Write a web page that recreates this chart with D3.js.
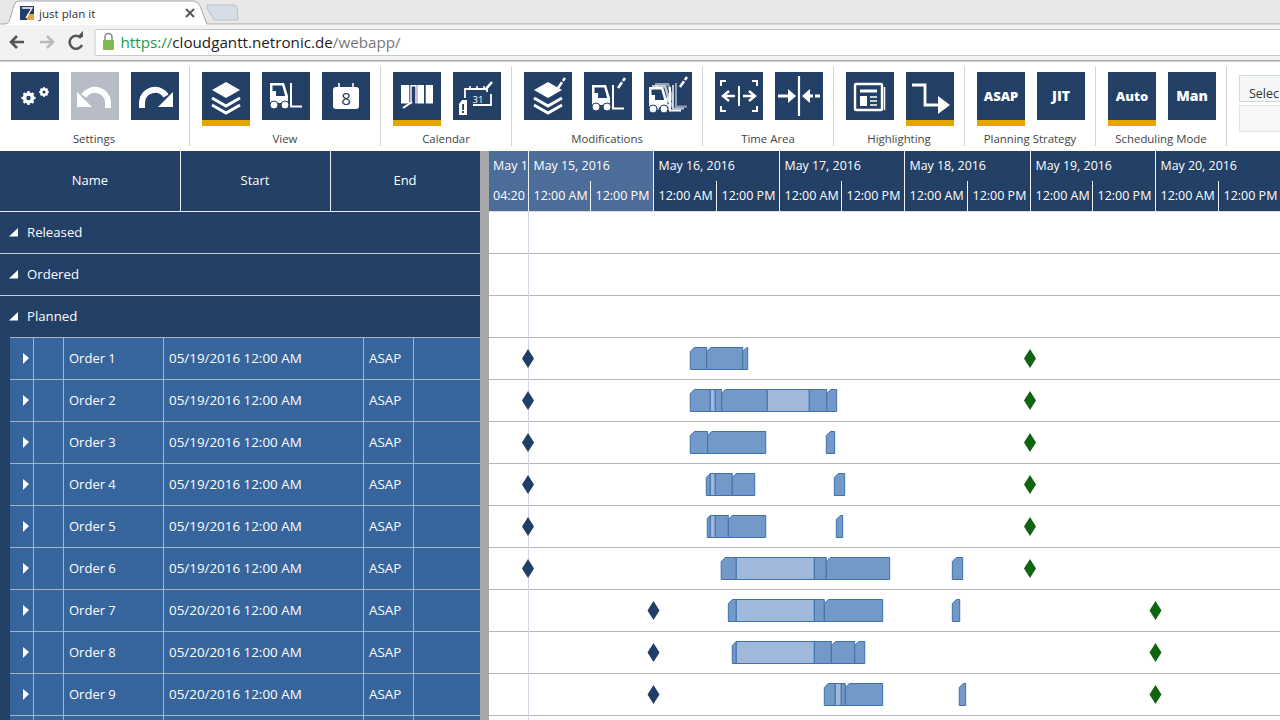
<!DOCTYPE html>
<html>
<head>
<meta charset="utf-8">
<title>just plan it</title>
<script src="https://cdn.jsdelivr.net/npm/d3@7"></script>
<style>
html, body { margin: 0; padding: 0; background: #fff; overflow: hidden; }
svg { display: block; }
text { font-family: "Open Sans", sans-serif; }
</style>
</head>
<body>
<script>
// chart values
const groupNames = ["Released", "Ordered", "Planned"];
const orderNames = ["Order 1", "Order 2", "Order 3", "Order 4", "Order 5", "Order 6", "Order 7", "Order 8", "Order 9"];
const orderStarts = ["05/19/2016 12:00 AM", "05/19/2016 12:00 AM", "05/19/2016 12:00 AM", "05/19/2016 12:00 AM", "05/19/2016 12:00 AM", "05/19/2016 12:00 AM", "05/20/2016 12:00 AM", "05/20/2016 12:00 AM", "05/20/2016 12:00 AM"];
const orderStrategy = ["ASAP", "ASAP", "ASAP", "ASAP", "ASAP", "ASAP", "ASAP", "ASAP", "ASAP"];
const earliestDates = ["2016-05-15", "2016-05-15", "2016-05-15", "2016-05-15", "2016-05-15", "2016-05-15", "2016-05-16", "2016-05-16", "2016-05-16"];
const dueDates = ["2016-05-19", "2016-05-19", "2016-05-19", "2016-05-19", "2016-05-19", "2016-05-19", "2016-05-20", "2016-05-20", "2016-05-20"];
const dayLabels = ["2016-05-15", "2016-05-16", "2016-05-17", "2016-05-18", "2016-05-19", "2016-05-20"];

// operation pieces per order: [start hour after May 15 00:00, end hour, kind]
// kind: "first" starts an operation, "cont" carries on, "wait" is the lighter part
const order1Ops = [[30.94, 34.08, "first"], [34.08, 40.96, "first"], [40.96, 41.92, "first"]];
const order2Ops = [[30.94, 34.77, "first"], [34.77, 35.72, "wait"], [35.72, 36.95, "cont"], [36.95, 45.67, "first"], [45.67, 53.70, "wait"], [53.70, 57.03, "cont"], [57.03, 58.94, "first"]];
const order3Ops = [[30.94, 34.27, "first"], [34.27, 45.36, "first"], [56.95, 58.55, "first"]];
const order4Ops = [[34.00, 34.77, "first"], [34.77, 35.72, "wait"], [35.72, 38.97, "cont"], [38.97, 43.26, "first"], [58.48, 60.47, "first"]];
const order5Ops = [[34.19, 34.77, "first"], [34.77, 35.72, "wait"], [35.72, 38.21, "cont"], [38.21, 45.36, "first"], [58.86, 60.09, "first"]];
const order6Ops = [[36.85, 39.74, "first"], [39.74, 54.66, "wait"], [54.66, 56.95, "cont"], [56.95, 69.07, "first"], [81.05, 83.04, "first"]];
const order7Ops = [[38.21, 39.74, "first"], [39.74, 54.66, "wait"], [54.66, 56.57, "cont"], [56.57, 67.74, "first"], [81.05, 82.46, "first"]];
const order8Ops = [[38.97, 39.74, "first"], [39.74, 54.66, "wait"], [54.66, 57.91, "cont"], [57.91, 62.38, "first"], [62.38, 64.30, "first"]];
const order9Ops = [[56.57, 58.67, "first"], [58.67, 59.82, "wait"], [59.82, 60.58, "cont"], [60.58, 67.74, "first"], [82.38, 83.60, "first"]];
const orderOps = [order1Ops, order2Ops, order3Ops, order4Ops, order5Ops, order6Ops, order7Ops, order8Ops, order9Ops];

// toolbar
const toolGroups = ["Settings", "View", "Calendar", "Modifications", "Time Area", "Highlighting", "Planning Strategy", "Scheduling Mode"];
const toolIcons = [["gears", "undo", "redo"], ["layers", "fork", "cal8"], ["columns", "cal31"], ["layersPen", "forkPen", "forksPen"], ["expand", "collapse"], ["doc", "route"], ["ASAP", "JIT"], ["Auto", "Man"]];
const activeIcons = ["layers", "columns", "route", "ASAP", "Auto"];

const width = 1280, height = 720;
const amber = "#e6a400";

const svg = d3.select("body").append("svg").attr("width", width).attr("height", height);

// the screenshot is dithered, so the dark fills are two-tone
const defs = svg.append("defs");
function dither(id, a, b) {
    const p = defs.append("pattern").attr("id", id).attr("width", 2).attr("height", 2).attr("patternUnits", "userSpaceOnUse");
    p.append("rect").attr("width", 2).attr("height", 2).attr("fill", a);
    p.append("rect").attr("width", 1).attr("height", 1).attr("fill", b);
    p.append("rect").attr("x", 1).attr("y", 1).attr("width", 1).attr("height", 1).attr("fill", b);
    return `url(#${id})`;
}
const navy = dither("navyFill", "#1b3a64", "#2a4568");
const rowBlue = dither("rowFill", "#2f5f9c", "#3f6a9c");
const headLight = dither("headFill", "#436a9e", "#566f94");
const navySolid = "#213f66";

const parseDay = d3.timeParse("%Y-%m-%d");
const fmtDay = d3.timeFormat("%b %-d, %Y");

const t0 = parseDay("2016-05-15");
const x = d3.scaleTime().domain([t0, parseDay("2016-05-21")]).range([528.5, 1281.5]);
const hourX = h => x(d3.timeMinute.offset(t0, Math.round(h * 60)));
const rowY = d3.scaleBand().domain(orderNames).range([337, 715]);

function line(g, x1, y1, x2, y2, color) {
    g.append("line").attr("x1", x1).attr("y1", y1).attr("x2", x2).attr("y2", y2).attr("stroke", color).attr("stroke-width", 1);
}
function label(g, str, px, py, size, color, anchor) {
    return g.append("text").attr("x", px).attr("y", py).attr("font-size", size).attr("fill", color).attr("text-anchor", anchor || "start").text(str);
}

// ---- browser frame
const chrome = svg.append("g");
chrome.append("rect").attr("width", width).attr("height", 24).attr("fill", "#e9e8e6");
chrome.append("rect").attr("y", 24).attr("width", width).attr("height", 36).attr("fill", "#f3f2f1");
chrome.append("path").attr("d", "M0 24H5Q9 24 10 19L14 5Q15 1 20 1H192Q198 1 200 6L206 24H1280V25H0Z").attr("fill", "#fff");
chrome.append("path").attr("d", "M0 24H4Q9 24 10 19L14 5Q15 1 20 1H192Q198 1 200 6L207 24H1280").attr("fill", "none").attr("stroke", "#a9a9a9");
chrome.append("path").attr("d", "M207 5H233Q236 5 237 8L238 20H214L207 8Z").attr("fill", "#d5dde6").attr("stroke", "#b9c0c8");
chrome.append("rect").attr("x", 20).attr("y", 6).attr("width", 14).attr("height", 14).attr("fill", "#203f68");
chrome.append("rect").attr("x", 27).attr("y", 14).attr("width", 7).attr("height", 6).attr("fill", "#e8a33a");
chrome.append("path").attr("d", "M22 8H32L26 18").attr("fill", "none").attr("stroke", "#fff").attr("stroke-width", 1.4);
label(chrome, "just plan it", 39, 18, 11.6, "#333");
chrome.append("path").attr("d", "M186 9L194 17M194 9L186 17").attr("stroke", "#555").attr("stroke-width", 1.8);
chrome.append("path").attr("d", "M24 42H11M17 36L11 42L17 48").attr("fill", "none").attr("stroke", "#555").attr("stroke-width", 2.6);
chrome.append("path").attr("d", "M40 42H53M47 36L53 42L47 48").attr("fill", "none").attr("stroke", "#b9b9b9").attr("stroke-width", 2.6);
chrome.append("path").attr("d", "M81 38A6.5 6.5 0 1 0 82 45").attr("fill", "none").attr("stroke", "#555").attr("stroke-width", 2.6);
chrome.append("path").attr("d", "M77 37H83V31Z").attr("fill", "#555");
chrome.append("rect").attr("x", 95).attr("y", 29.5).attr("width", 1200).attr("height", 26).attr("rx", 2).attr("fill", "#fff").attr("stroke", "#c8c8c8");
chrome.append("rect").attr("x", 103).attr("y", 40).attr("width", 11).attr("height", 10).attr("rx", 1).attr("fill", "#7fb850");
chrome.append("path").attr("d", "M105 40V37A3.5 3.5 0 0 1 112 37V40").attr("fill", "none").attr("stroke", "#888").attr("stroke-width", 1.5);
const url = chrome.append("text").attr("x", 120.5).attr("y", 48).attr("font-size", 15.2);
url.append("tspan").attr("fill", "#1a9a4b").text("https://");
url.append("tspan").attr("fill", "#222").text("cloudgantt.netronic.de");
url.append("tspan").attr("fill", "#777").text("/webapp/");
chrome.append("rect").attr("y", 60).attr("width", width).attr("height", 1.5).attr("fill", "#a8a4a8");

// ---- toolbar icons, drawn in a 48x48 tile
const W = "#fff";
function fill(g, d) { return g.append("path").attr("d", d).attr("fill", W); }
function stroke(g, d, w) { return g.append("path").attr("d", d).attr("fill", "none").attr("stroke", W).attr("stroke-width", w || 2); }
function pen(g, px, py) { g.append("path").attr("d", `M${px} ${py + 10}L${px + 7} ${py}`).attr("fill", "none").attr("stroke", W).attr("stroke-width", 2.6).attr("stroke-dasharray", "7 1.5"); }
function gear(g, cx, cy, r) {
    g.append("circle").attr("cx", cx).attr("cy", cy).attr("r", r).attr("fill", "none").attr("stroke", W).attr("stroke-width", r * 0.9);
    const teeth = d3.range(8).map(i => i * Math.PI / 4);
    teeth.forEach(a => g.append("line")
        .attr("x1", cx + Math.cos(a) * r).attr("y1", cy + Math.sin(a) * r)
        .attr("x2", cx + Math.cos(a) * r * 1.75).attr("y2", cy + Math.sin(a) * r * 1.75)
        .attr("stroke", W).attr("stroke-width", r * 0.6));
}
function layers(g, cx, cy, s) {
    fill(g, `M${cx} ${cy - 8 * s}L${cx + 14 * s} ${cy}L${cx} ${cy + 8 * s}L${cx - 14 * s} ${cy}Z`);
    stroke(g, `M${cx - 14 * s} ${cy + 8 * s}L${cx} ${cy + 16 * s}L${cx + 14 * s} ${cy + 8 * s}`, 3 * s);
    stroke(g, `M${cx - 14 * s} ${cy + 15 * s}L${cx} ${cy + 23 * s}L${cx + 14 * s} ${cy + 15 * s}`, 3 * s);
}
function fork(g, dx, dy, op) {
    const f = g.append("g").attr("transform", `translate(${dx},${dy})`).attr("opacity", op || 1);
    stroke(f, "M29 11V34.5H40", 2);
    fill(f, "M8 11H22L26 24V31H8Z");
    f.append("path").attr("d", "M10.5 13.5H20.2L23.2 24H14V19H10.5Z").attr("fill", navySolid);
    f.append("circle").attr("cx", 12).attr("cy", 33).attr("r", 4).attr("fill", W).attr("stroke", navySolid);
    f.append("circle").attr("cx", 23).attr("cy", 33).attr("r", 4).attr("fill", W).attr("stroke", navySolid);
}
const iconDraw = {
    gears(g) { gear(g, 17.5, 26, 4); gear(g, 33, 20, 2.8); },
    undo(g) { stroke(g, "M37 36V30A13 13 0 0 0 13 24", 6); fill(g, "M6 20V35H21Z"); },
    redo(g) { stroke(g, "M11 36V30A13 13 0 0 1 35 24", 6); fill(g, "M42 20V35H27Z"); },
    layers(g) { layers(g, 24, 18, 1); },
    fork(g) { fork(g, 0, 0); },
    cal8(g) {
        g.append("rect").attr("x", 11).attr("y", 15).attr("width", 26).attr("height", 22).attr("rx", 3).attr("fill", W);
        stroke(g, "M17 11V18M31 11V18", 1.6);
        label(g, "8", 24, 33, 17, "#213f66", "middle");
    },
    columns(g) {
        [[8, 8.3], [24.3, 6.7], [32.7, 7.3]].forEach(c => g.append("rect").attr("x", c[0]).attr("y", 13).attr("width", c[1]).attr("height", 18.5).attr("fill", W));
        stroke(g, "M18 13.7H23V31.5M18 13V31.5", 1.4);
        stroke(g, "M10 36L19 30", 2);
    },
    cal31(g) {
        stroke(g, "M12 26V17H34V20M38 22V33H20", 1.8);
        stroke(g, "M17 14V18M24 14V18M31 14V18", 1.6);
        stroke(g, "M33 17L39 10", 2.6);
        label(g, "31", 25, 31, 9.5, W, "middle");
        fill(g, "M6 32L9 28H14V43H6Z");
        g.append("rect").attr("x", 9.2).attr("y", 32).attr("width", 1.8).attr("height", 6).attr("fill", navySolid);
        g.append("rect").attr("x", 9.2).attr("y", 39).attr("width", 1.8).attr("height", 2).attr("fill", navySolid);
    },
    layersPen(g) { layers(g, 24, 18, 1); pen(g, 34, 6); },
    forkPen(g) { fork(g, 0, 2); pen(g, 34, 6); },
    forksPen(g) { fork(g, 3, 0, 0.5); fork(g, 0, 2, 0.7); fork(g, -3, 4); pen(g, 36, 5); },
    expand(g) {
        stroke(g, "M6 14V9H11M37 9H42V14M6 34V39H11M37 39H42V34", 2);
        stroke(g, "M24 14V34", 2);
        stroke(g, "M20 24H9M14 19L8 24L14 29M28 24H39M34 19L40 24L34 29", 2.4);
    },
    collapse(g) {
        stroke(g, "M24 4V44", 2.2);
        stroke(g, "M3 24H19M40 24H45M29 24H38", 3);
        fill(g, "M13 17L21 24L13 31Z");
        fill(g, "M35 17L27 24L35 31Z");
    },
    doc(g) {
        g.append("rect").attr("x", 9).attr("y", 12).attr("width", 27).attr("height", 26).attr("rx", 1).attr("fill", "none").attr("stroke", W).attr("stroke-width", 2.4);
        stroke(g, "M38.5 15V38", 1.5);
        stroke(g, "M14 19H31", 3);
        g.append("rect").attr("x", 14).attr("y", 24).attr("width", 7).attr("height", 10).attr("fill", W);
        stroke(g, "M24 25H31M24 29H31M24 33H31", 1.5);
    },
    route(g) {
        stroke(g, "M6 13H19V33H36", 2.8);
        fill(g, "M32 24L44 33L32 42Z");
    }
};

const toolbar = svg.append("g");
let tileX = 11;
toolGroups.forEach((name, gi) => {
    const first = tileX;
    toolIcons[gi].forEach(ic => {
        const g = toolbar.append("g").attr("transform", `translate(${tileX},72)`);
        g.append("rect").attr("width", 48).attr("height", 48).attr("fill", ic == "undo" ? "#b7bcc6" : navy);
        if (iconDraw[ic]) iconDraw[ic](g);
        else label(g, ic, 24, 29, ic == "ASAP" || ic == "Auto" ? 13 : 14, W, "middle").attr("font-weight", 800);
        if (activeIcons.includes(ic)) g.append("rect").attr("y", 48).attr("width", 48).attr("height", 6).attr("fill", amber);
        tileX += 60;
    });
    const last = tileX - 12;
    label(toolbar, name, (first + last) / 2 - 1, 143, 11.4, "#444", "middle");
    line(toolbar, last + 10.5, 66, last + 10.5, 146, "#d4d4d4");
    tileX = last + 23;
});
toolbar.append("rect").attr("x", 1239.5).attr("y", 75.5).attr("width", 50).attr("height", 26).attr("fill", "#f5f7f7").attr("stroke", "#cfdadb");
toolbar.append("rect").attr("x", 1239.5).attr("y", 105.5).attr("width", 50).attr("height", 26).attr("fill", "#f8f9f7").attr("stroke", "#dfe5e2");
label(toolbar, "Selec", 1249, 98, 12.5, "#333");

// ---- left table
const table = svg.append("g");
table.append("rect").attr("y", 151).attr("width", 480).attr("height", 569).attr("fill", navy);
[180.5, 330.5].forEach(c => line(table, c, 151, c, 211, "#e8ecf2"));
line(table, 0, 211.5, 480, 211.5, "#e8ecf2");
["Name", "Start", "End"].forEach((s, i) => label(table, s, [90, 255, 405][i], 185, 13, "#fff", "middle"));

groupNames.forEach((name, i) => {
    const y = 211 + 42 * i;
    if (i) line(table, 0, y + .5, 480, y + .5, "#c4ccd8");
    table.append("path").attr("d", `M9 ${y + 25.5}H18V${y + 17}Z`).attr("fill", "#fff");
    label(table, name, 27, y + 25.5, 13.2, "#fff");
});

const colEdges = [33.5, 63.5, 163.5, 363.5, 413.5];
orderNames.forEach((name, i) => {
    const y = rowY(name);
    table.append("rect").attr("x", 10).attr("y", y).attr("width", 470).attr("height", rowY.bandwidth()).attr("fill", rowBlue);
    line(table, 10, y + .5, 480, y + .5, "#a3b3c9");
    colEdges.forEach(c => line(table, c, y, c, y + 42, "#a3b3c9"));
    table.append("path").attr("d", `M23 ${y + 16}L29 ${y + 21}L23 ${y + 27}Z`).attr("fill", "#fff");
    label(table, name, 69, y + 25.5, 13, "#fff");
    label(table, orderStarts[i], 169, y + 25.5, 13.4, "#fff");
    label(table, orderStrategy[i], 369, y + 25.5, 13.4, "#fff");
});
table.append("rect").attr("x", 10).attr("y", 715).attr("width", 470).attr("height", 5).attr("fill", rowBlue);
line(table, 10, 715.5, 480, 715.5, "#a3b3c9");
colEdges.forEach(c => line(table, c, 715, c, 720, "#a3b3c9"));
table.append("rect").attr("x", 480).attr("y", 151).attr("width", 9).attr("height", 569).attr("fill", "#a7a6a8");

// ---- gantt time header
svg.append("clipPath").attr("id", "ganttClip").append("rect").attr("x", 489).attr("y", 151).attr("width", 791).attr("height", 569);
const gantt = svg.append("g").attr("clip-path", "url(#ganttClip)");
gantt.append("rect").attr("x", 489).attr("y", 151).attr("width", 791).attr("height", 60).attr("fill", navy);
gantt.append("rect").attr("x", 489).attr("y", 151).attr("width", x(parseDay("2016-05-16")) - 489 - 1).attr("height", 60).attr("fill", headLight);

label(gantt, "May 1", 493, 170, 12.5, "#fff");
label(gantt, "04:20", 493, 200, 12.5, "#fff");

dayLabels.forEach(s => {
    const d = parseDay(s);
    const px = Math.round(x(d)) - .5;
    line(gantt, px, 151, px, 211, "#eef1f5");
    label(gantt, fmtDay(d), px + 5, 170, 12.4, "#fff");
    label(gantt, "12:00 AM", px + 5, 200, 12.5, "#fff");
    const noon = d3.timeHour.offset(d, 12);
    const nx = Math.round(x(noon)) - .5;
    line(gantt, nx, 181, nx, 211, "#eef1f5");
    label(gantt, "12:00 PM", nx + 5, 200, 12.5, "#fff");
});
line(gantt, 489, 211.5, 1280, 211.5, "#d9dde3");

// ---- rows, today line, bars, milestones
d3.range(1, 13).forEach(i => line(gantt, 489, 211.5 + 42 * i, 1280, 211.5 + 42 * i, "#b5b5b5"));
line(gantt, x(t0), 212, x(t0), 720, "#d5d8e8");

const pieces = orderOps.flatMap((ops, i) => ops.map(o => ({ order: orderNames[i], start: o[0], end: o[1], kind: o[2] })));
gantt.selectAll("path.op").data(pieces).join("path")
    .attr("class", "op")
    .attr("d", d => {
        const x0 = hourX(d.start), x1 = hourX(d.end);
        const top = rowY(d.order) + 10.5, bottom = rowY(d.order) + 32.5;
        if (d.kind != "first") return `M${x0} ${bottom}V${top}H${x1}V${bottom}Z`;
        const c = Math.min(4, x1 - x0);
        return `M${x0} ${bottom}V${top + c}L${x0 + c} ${top}H${x1}V${bottom}Z`;
    })
    .attr("fill", d => d.kind == "wait" ? "#a0b8d9" : "#7399c9")
    .attr("stroke", "#3f70aa")
    .attr("stroke-width", 1);

const diamond = (cx, cy) => `M${cx} ${cy - 9.5}L${cx + 6} ${cy}L${cx} ${cy + 9.5}L${cx - 6} ${cy}Z`;
gantt.selectAll("path.earliest").data(orderNames).join("path")
    .attr("class", "earliest")
    .attr("d", (n, i) => diamond(x(parseDay(earliestDates[i])) - .5, rowY(n) + 21.5))
    .attr("fill", navySolid);
gantt.selectAll("path.due").data(orderNames).join("path")
    .attr("class", "due")
    .attr("d", (n, i) => diamond(x(parseDay(dueDates[i])) - .5, rowY(n) + 21.5))
    .attr("fill", "#0f6410");
</script>
</body>
</html>
